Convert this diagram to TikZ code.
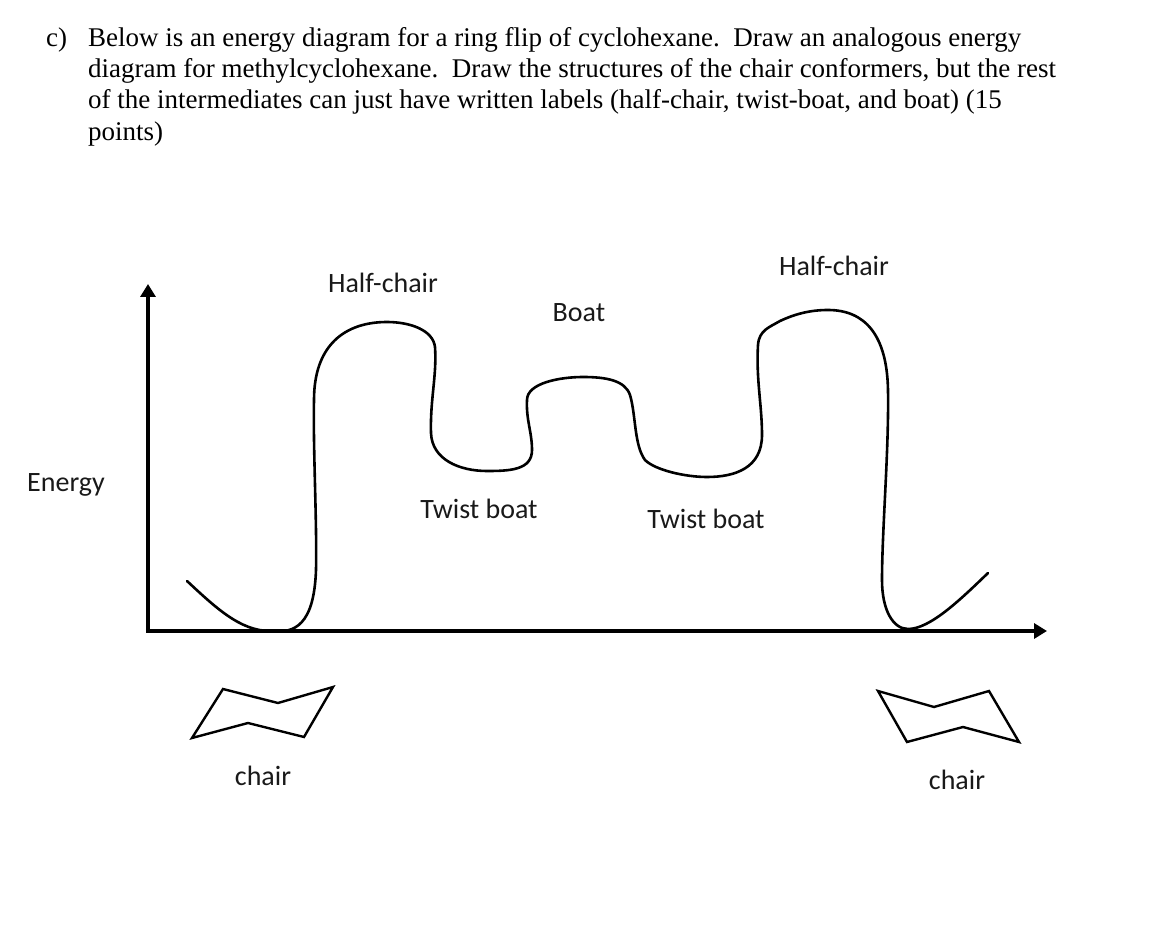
\documentclass[tikz,border=0pt]{standalone}
\usepackage{fontspec}
\setmainfont{Liberation Serif}
\newfontfamily\lab{Carlito}
\usetikzlibrary{arrows.meta}
\tikzset{
 body/.style={anchor=base west,inner sep=0pt,font=\fontsize{27}{29}\selectfont},
 lbl/.style={anchor=base,inner sep=0pt,font=\lab\fontsize{28}{30}\selectfont,text=black!90},
 axis/.style={line width=4.4pt,-{Triangle[length=13pt,width=15pt]}},
 curve/.style={line width=2.6pt,line join=round,line cap=round},
 ring/.style={line width=2.4pt,line join=miter}
}
\begin{document}
\begin{tikzpicture}[x=1pt,y=-1pt]
\useasboundingbox (0,0) rectangle (1152,928);
\node[body] (c) at (46,47) {c)};
\node[body] (l1) at (88,47) {Below is an energy diagram for a ring flip of cyclohexane.\ \ Draw an analogous energy};
\node[body] (l2) at (88,78) {diagram for methylcyclohexane.\ \ Draw the structures of the chair conformers, but the rest};
\node[body] (l3) at (88,109) {of the intermediates can just have written labels (half-chair, twist-boat, and boat) (15};
\node[body] (l4) at (88,141) {points)};
\coordinate (o) at (148,631);
\coordinate (ytip) at (148,284);
\coordinate (xtip) at (1047,631);
\draw[axis] (o) -- (ytip);
\draw[axis] ([xshift=-2.2pt]o) -- (xtip);
\draw[curve] (187,581) .. controls (215,607) and (240,631) .. (270,631)
 .. controls (295,634) and (314,625) .. (316,570)
 .. controls (317,520) and (313,450) .. (314,400)
 .. controls (314,345) and (345,322) .. (387,322)
 .. controls (410,322) and (433,330) .. (435,347)
 .. controls (437,375) and (430,400) .. (431,433)
 .. controls (432,460) and (460,471) .. (487,471)
 .. controls (510,471) and (532,470) .. (532,450)
 .. controls (532,432) and (526,420) .. (527,400)
 .. controls (527,383) and (560,377) .. (583,377)
 .. controls (605,377) and (625,380) .. (630,395)
 .. controls (636,415) and (634,445) .. (645,460)
 .. controls (655,470) and (685,477) .. (707,477)
 .. controls (735,477) and (762,468) .. (762,435)
 .. controls (762,405) and (756,380) .. (758,345)
 .. controls (759,330) and (770,327) .. (780,321)
 .. controls (795,314) and (810,310) .. (828,310)
 .. controls (865,310) and (887,335) .. (888,390)
 .. controls (889,450) and (882,530) .. (882,580)
 .. controls (882,610) and (893,629) .. (908,629)
 .. controls (930,629) and (960,600) .. (988,573);
\draw[ring] (192,738) -- (223,689) -- (278,703) -- (333,687) -- (304,737) -- (248,723) -- cycle;
\draw[ring] (878,691) -- (934,707) -- (989,691) -- (1019,742) -- (963,727) -- (907,742) -- cycle;
\node[lbl] (hc1) at (383,293) {Half-chair};
\node[lbl] (hc2) at (834,276) {Half-chair};
\node[lbl] (boat) at (579,322) {Boat};
\node[lbl] (tb1) at (479,518) {Twist boat};
\node[lbl] (tb2) at (706,528) {Twist boat};
\node[lbl] (en) at (66,491) {Energy};
\node[lbl] (ch1) at (263,785) {chair};
\node[lbl] (ch2) at (957,789) {chair};
\end{tikzpicture}
\end{document}
